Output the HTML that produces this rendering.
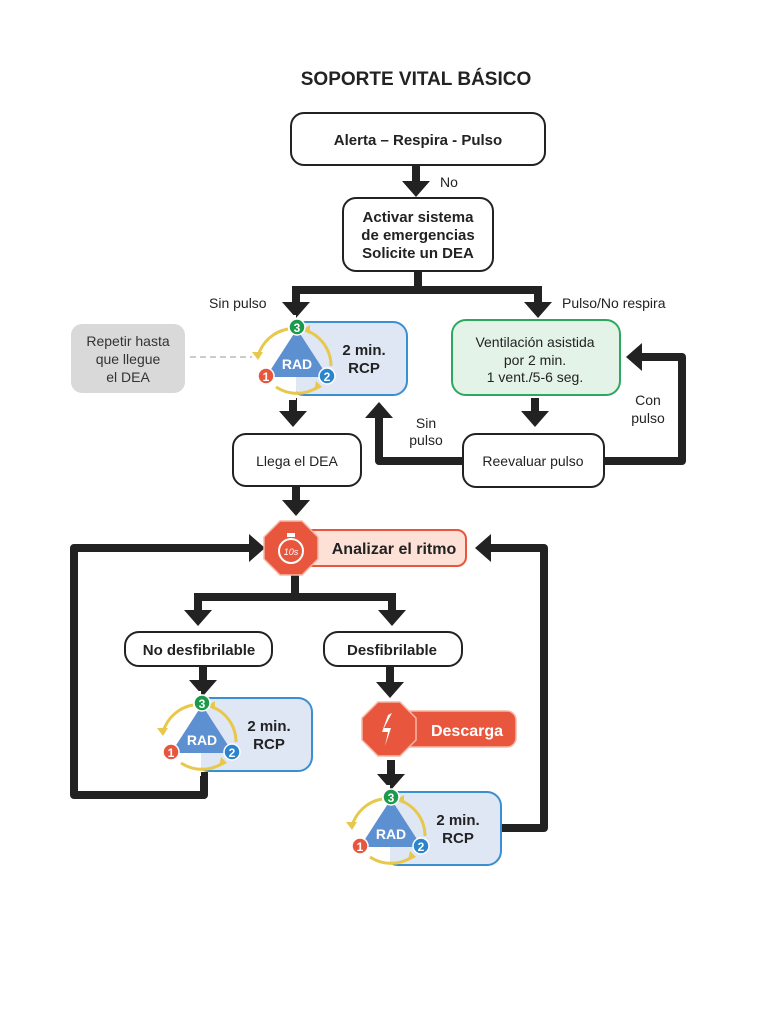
<!DOCTYPE html>
<html><head><meta charset="utf-8"><style>
html,body{margin:0;padding:0;background:#fff;}
svg{display:block;font-family:"Liberation Sans",Arial,sans-serif;}
</style></head><body>
<svg width="768" height="1024" viewBox="0 0 768 1024" xmlns="http://www.w3.org/2000/svg">
<defs>
<g id="rcp">
  <rect x="290" y="322" width="117" height="73" rx="14" fill="#dfe6f4" stroke="#3a8fd0" stroke-width="2"/>
  <rect x="270" y="315" width="26" height="85" fill="#fff"/>
  <path d="M288 329 A38 38 0 0 0 258 356" fill="none" stroke="#e8c84a" stroke-width="3"/>
  <path d="M252 352 l6 8 l5 -8z" fill="#e8c84a"/>
  <path d="M276 387 A38 38 0 0 0 318 387" fill="none" stroke="#e8c84a" stroke-width="3"/>
  <path d="M316 381 l6 6 l-8 4z" fill="#e8c84a"/>
  <path d="M305 330 A38 38 0 0 1 331 366" fill="none" stroke="#e8c84a" stroke-width="3"/>
  <path d="M302 330 l8 -5 l0 9z" fill="#e8c84a"/>
  <polygon points="297,329 266,377 328,377" fill="#5d90d0"/>
  <text x="297" y="369" font-size="14" font-weight="bold" fill="#fff" text-anchor="middle">RAD</text>
  <circle cx="297" cy="327" r="8" fill="#1a9a4a" stroke="#fff" stroke-width="1.5"/>
  <text x="297" y="332" font-size="12" font-weight="bold" fill="#fff" text-anchor="middle">3</text>
  <circle cx="266" cy="376" r="8" fill="#e8573d" stroke="#fff" stroke-width="1.5"/>
  <text x="266" y="381" font-size="12" font-weight="bold" fill="#fff" text-anchor="middle">1</text>
  <circle cx="327" cy="376" r="8" fill="#2a85cc" stroke="#fff" stroke-width="1.5"/>
  <text x="327" y="381" font-size="12" font-weight="bold" fill="#fff" text-anchor="middle">2</text>
  <text x="364" y="355" font-size="15" font-weight="bold" fill="#222" text-anchor="middle">2 min.</text>
  <text x="364" y="373" font-size="15" font-weight="bold" fill="#222" text-anchor="middle">RCP</text>
</g>
<g id="oct">
  <polygon points="-11,-27 11,-27 27,-11 27,11 11,27 -11,27 -27,11 -27,-11" fill="#e8573d" stroke="#f7b7a8" stroke-width="1.5"/>
</g>
</defs>

<text x="416" y="85" font-size="19" font-weight="bold" fill="#222" text-anchor="middle">SOPORTE VITAL BÁSICO</text>

<g fill="none" stroke="#222" stroke-width="8" stroke-linejoin="round">
  <path d="M416 165 V184"/>
  <path d="M418 271 V290 M296 290 H538 M296 286 V304 M538 286 V304"/>
  <path d="M293 398 V413"/>
  <path d="M535 398 V413"/>
  <path d="M604 461 H682 V357 H640"/>
  <path d="M463 461 H379 V418"/>
  <path d="M296 486 V502"/>
  <path d="M204 772 V795 H74 V548 H250"/>
  <path d="M500 828 H544 V548 H490"/>
  <path d="M295 570 V597 M198 597 H392 M198 593 V612 M392 593 V612"/>
  <path d="M203 667 V682"/>
  <path d="M390 667 V684"/>
  <path d="M391 760 V776"/>
</g>
<g fill="#222">
  <polygon points="402,181 430,181 416,197"/>
  <polygon points="282,302 310,302 296,318"/>
  <polygon points="524,302 552,302 538,318"/>
  <polygon points="279,411 307,411 293,427"/>
  <polygon points="521,411 549,411 535,427"/>
  <polygon points="282,500 310,500 296,516"/>
  <polygon points="184,610 212,610 198,626"/>
  <polygon points="378,610 406,610 392,626"/>
  <polygon points="189,680 217,680 203,696"/>
  <polygon points="376,682 404,682 390,698"/>
  <polygon points="377,774 405,774 391,790"/>
  <polygon points="365,418 393,418 379,402"/>
  <polygon points="642,343 642,371 626,357"/>
  <polygon points="249,534 249,562 265,548"/>
  <polygon points="491,534 491,562 475,548"/>
</g>

<text x="440" y="187" font-size="14" fill="#222">No</text>
<text x="209" y="308" font-size="14" fill="#222">Sin pulso</text>
<text x="562" y="308" font-size="14" fill="#222">Pulso/No respira</text>
<text x="426" y="428" font-size="14" fill="#222" text-anchor="middle">Sin</text>
<text x="426" y="445" font-size="14" fill="#222" text-anchor="middle">pulso</text>
<text x="648" y="405" font-size="14" fill="#222" text-anchor="middle">Con</text>
<text x="648" y="423" font-size="14" fill="#222" text-anchor="middle">pulso</text>

<rect x="291" y="113" width="254" height="52" rx="13" fill="#fff" stroke="#222" stroke-width="2"/>
<text x="418" y="145" font-size="15" font-weight="bold" fill="#222" text-anchor="middle">Alerta – Respira - Pulso</text>

<rect x="343" y="198" width="150" height="73" rx="13" fill="#fff" stroke="#222" stroke-width="2"/>
<text x="418" y="222" font-size="15" font-weight="bold" fill="#222" text-anchor="middle">Activar sistema</text>
<text x="418" y="240" font-size="15" font-weight="bold" fill="#222" text-anchor="middle">de emergencias</text>
<text x="418" y="258" font-size="15" font-weight="bold" fill="#222" text-anchor="middle">Solicite un DEA</text>

<rect x="71" y="324" width="114" height="69" rx="11" fill="#d9d9d9"/>
<text x="128" y="346" font-size="14" fill="#333" text-anchor="middle">Repetir hasta</text>
<text x="128" y="364" font-size="14" fill="#333" text-anchor="middle">que llegue</text>
<text x="128" y="382" font-size="14" fill="#333" text-anchor="middle">el DEA</text>
<path d="M190 357 H252" stroke="#bbb" stroke-width="1.5" stroke-dasharray="6,4"/>

<use href="#rcp"/>
<use href="#rcp" transform="translate(-95,376)"/>
<use href="#rcp" transform="translate(94,470)"/>

<rect x="452" y="320" width="168" height="75" rx="14" fill="#e4f3e8" stroke="#2ea860" stroke-width="2"/>
<text x="535" y="347" font-size="14" fill="#222" text-anchor="middle">Ventilación asistida</text>
<text x="535" y="365" font-size="14" fill="#222" text-anchor="middle">por 2 min.</text>
<text x="535" y="382" font-size="14" fill="#222" text-anchor="middle">1 vent./5-6 seg.</text>

<rect x="463" y="434" width="141" height="53" rx="13" fill="#fff" stroke="#222" stroke-width="2"/>
<text x="533" y="466" font-size="14" fill="#222" text-anchor="middle">Reevaluar pulso</text>

<rect x="233" y="434" width="128" height="52" rx="13" fill="#fff" stroke="#222" stroke-width="2"/>
<text x="297" y="466" font-size="14" fill="#222" text-anchor="middle">Llega el DEA</text>

<rect x="296" y="530" width="170" height="36" rx="9" fill="#fde0d6" stroke="#e8573d" stroke-width="2"/>
<use href="#oct" transform="translate(291,548)"/>
<circle cx="291" cy="551" r="12" fill="none" stroke="#fff" stroke-width="2"/>
<rect x="287" y="533" width="8" height="4" fill="#fff"/>
<text x="291" y="555" font-size="9" font-style="italic" fill="#fff" text-anchor="middle">10s</text>
<text x="394" y="554" font-size="16" font-weight="bold" fill="#222" text-anchor="middle">Analizar el ritmo</text>

<rect x="125" y="632" width="147" height="34" rx="14" fill="#fff" stroke="#222" stroke-width="2"/>
<text x="199" y="655" font-size="15" font-weight="bold" fill="#222" text-anchor="middle">No desfibrilable</text>
<rect x="324" y="632" width="138" height="34" rx="14" fill="#fff" stroke="#222" stroke-width="2"/>
<text x="392" y="655" font-size="15" font-weight="bold" fill="#222" text-anchor="middle">Desfibrilable</text>

<rect x="396" y="711" width="120" height="36" rx="9" fill="#e8573d" stroke="#f7b7a8" stroke-width="1.5"/>
<use href="#oct" transform="translate(389,729)"/>
<path d="M392 713 L384 728 L391 728 L385 746 L388 732 L382 732 L388 715z" fill="#fff"/>
<text x="467" y="736" font-size="16" font-weight="bold" fill="#fff" text-anchor="middle">Descarga</text>
</svg>
</body></html>
